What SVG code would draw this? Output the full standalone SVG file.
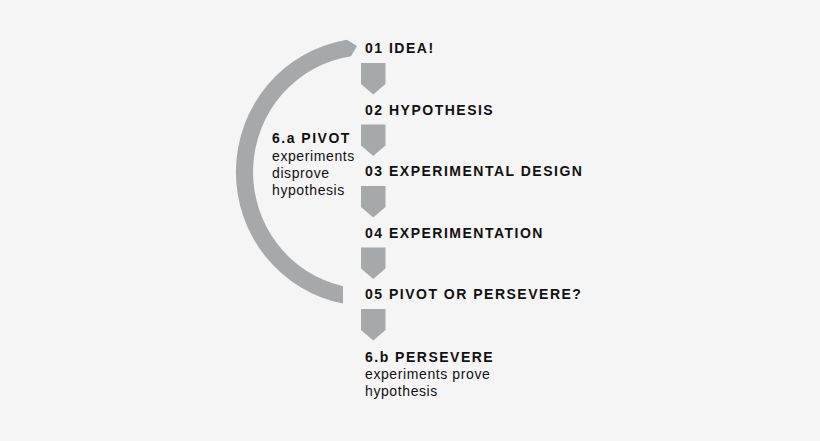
<svg xmlns="http://www.w3.org/2000/svg" width="820" height="441" viewBox="0 0 820 441">
<style>
.bg{fill:#f5f5f5}
.shape{fill:#a7a8aa}
.h{font-family:"Liberation Sans",Arial,sans-serif;font-weight:bold;font-size:14px;letter-spacing:1.5px;fill:#111}
.t{font-family:"Liberation Sans",Arial,sans-serif;font-size:14px;letter-spacing:0.6px;fill:#111}
</style>
<defs>
<path id="step" d="M0,0 H24.5 V21 L12.25,31.5 L0,21 Z"/>
</defs>
<rect class="bg" width="820" height="441"/>
<g id="connectors">
<path id="pivot-loop" class="shape" d="M347,39.7 A132,134 0 0 0 343,303.6 L343,286.2 A115,117 0 0 1 351,56.3 L357,46 Z"/>
<use href="#step" class="shape" x="361" y="63"/>
<use href="#step" class="shape" x="361" y="124.5"/>
<use href="#step" class="shape" x="361" y="186"/>
<use href="#step" class="shape" x="361" y="247.5"/>
<use href="#step" class="shape" x="361" y="309"/>
</g>
<g id="n01"><text class="h" x="365" y="53">01 IDEA!</text></g>
<g id="n02"><text class="h" x="365" y="114.5">02 HYPOTHESIS</text></g>
<g id="n03"><text class="h" x="365" y="176">03 EXPERIMENTAL DESIGN</text></g>
<g id="n04"><text class="h" x="365" y="237.5">04 EXPERIMENTATION</text></g>
<g id="n05"><text class="h" x="365" y="299">05 PIVOT OR PERSEVERE?</text></g>
<g id="n6a">
<text class="h" x="272" y="143.3">6.a PIVOT</text>
<text class="t" x="272" y="161.3">experiments</text>
<text class="t" x="272" y="178">disprove</text>
<text class="t" x="272" y="195">hypothesis</text>
</g>
<g id="n6b">
<text class="h" x="365" y="361.5">6.b PERSEVERE</text>
<text class="t" x="365" y="379">experiments prove</text>
<text class="t" x="365" y="395.5">hypothesis</text>
</g>
</svg>
